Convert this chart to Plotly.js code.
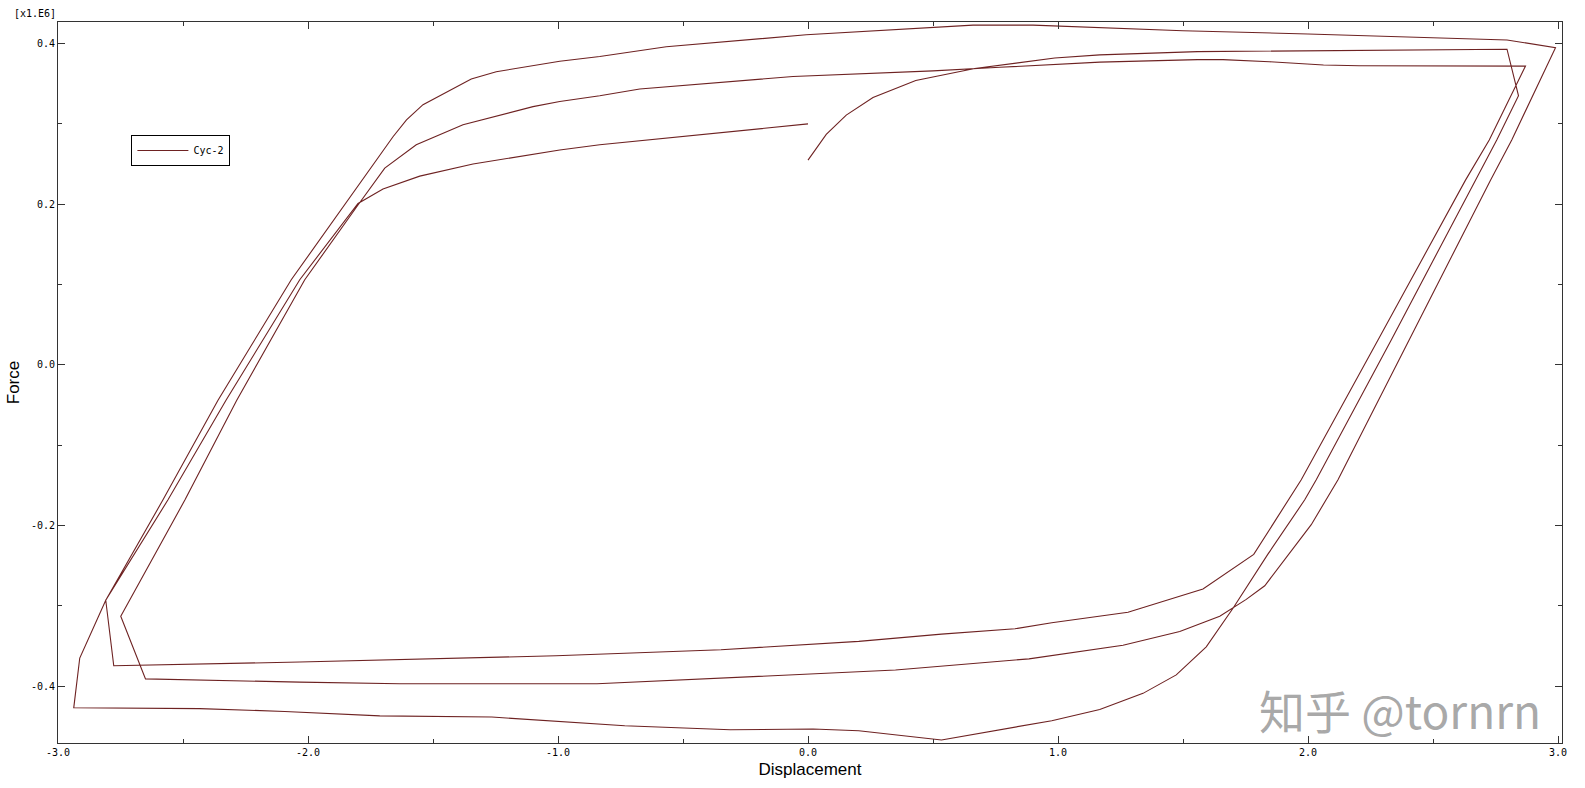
<!DOCTYPE html>
<html>
<head>
<meta charset="utf-8">
<script src="https://cdn.plot.ly/plotly-3.0.1.min.js"></script>
<style>
  html, body { margin: 0; padding: 0; background: #fff; }
  #chart { width: 1585px; height: 788px; }
</style>
</head>
<body>
<div id="chart"></div>
<script>
// Displacement / Force (x1.E6), branch by branch
// Branch 1: initial reload to the right
const disp_b1  = [0.000, 0.073, 0.153, 0.260, 0.431, 0.667, 0.987, 1.167, 1.558, 2.000, 2.494, 2.796];
const force_b1 = [0.255, 0.287, 0.311, 0.333, 0.354, 0.369, 0.382, 0.386, 0.390, 0.391, 0.392, 0.393];
// Branch 2: unload to the outer bottom branch
const disp_b2  = [2.842, 2.755, 2.670, 2.333, 2.033, 1.987, 1.839, 1.700, 1.593, 1.473, 1.340, 1.167, 0.975, 0.534, 0.203, 0.020, -0.311, -0.733, -1.265, -1.713, -2.093, -2.433, -2.937];
const force_b2 = [0.335, 0.280, 0.230, 0.031, -0.143, -0.168, -0.236, -0.303, -0.351, -0.386, -0.409, -0.429, -0.443, -0.467, -0.4555, -0.4534, -0.4543, -0.4493, -0.4385, -0.437, -0.4315, -0.428, -0.427];
// Branch 3: reload along the top branch
const disp_b3  = [-2.913, -2.809, -2.580, -2.360, -2.067, -1.660, -1.606, -1.540, -1.446, -1.347, -1.247, -0.993, -0.833, -0.567, -0.007, 0.500, 0.660, 0.900, 1.167, 1.500, 2.000, 2.796, 2.990];
const force_b3 = [-0.365, -0.293, -0.168, -0.044, 0.106, 0.284, 0.305, 0.324, 0.340, 0.356, 0.365, 0.378, 0.384, 0.396, 0.411, 0.420, 0.423, 0.423, 0.420, 0.416, 0.412, 0.4045, 0.395];
// Branch 4: unload to the middle bottom branch
const disp_b4  = [2.815, 2.730, 2.405, 2.120, 2.013, 1.827, 1.753, 1.647, 1.487, 1.260, 0.884, 0.350, -0.844, -1.633, -2.033, -2.650];
const force_b4 = [0.280, 0.230, 0.031, -0.143, -0.199, -0.275, -0.292, -0.313, -0.332, -0.349, -0.366, -0.380, -0.397, -0.397, -0.395, -0.391];
// Branch 5: reload along the middle upper branch
const disp_b5  = [-2.749, -2.492, -2.285, -2.013, -1.800, -1.693, -1.567, -1.380, -1.100, -0.993, -0.833, -0.673, -0.060, 0.500, 0.767, 1.167, 1.558, 1.660, 1.846, 2.062, 2.205, 2.870];
const force_b5 = [-0.313, -0.168, -0.044, 0.106, 0.199, 0.245, 0.274, 0.299, 0.3215, 0.328, 0.335, 0.3435, 0.359, 0.366, 0.3705, 0.377, 0.380, 0.380, 0.3775, 0.3734, 0.3725, 0.372];
// Branch 6: unload to the inner bottom branch
const disp_b6  = [2.725, 2.630, 2.280, 1.973, 1.783, 1.580, 1.280, 0.975, 0.828, 0.534, 0.203, -0.348, -1.008, -1.633, -2.033, -2.777];
const force_b6 = [0.280, 0.230, 0.031, -0.143, -0.236, -0.279, -0.308, -0.321, -0.3286, -0.3352, -0.3443, -0.3547, -0.3622, -0.367, -0.370, -0.3746];
// Branch 7: final reload, ends at zero displacement
const disp_b7  = [-2.809, -2.560, -2.328, -2.033, -1.800, -1.700, -1.553, -1.340, -0.993, -0.833, 0.000];
const force_b7 = [-0.293, -0.168, -0.044, 0.106, 0.201, 0.219, 0.235, 0.250, 0.2676, 0.274, 0.300];

const xTickVals = [-3, -2, -1, 0, 1, 2, 3];
const xTickText = ['-3.0', '-2.0', '-1.0', '0.0', '1.0', '2.0', '3.0'];
const yTickVals = [-0.4, -0.2, 0, 0.2, 0.4];
const yTickText = ['-0.4', '-0.2', '0.0', '0.2', '0.4'];

const displacement = [].concat(disp_b1, disp_b2, disp_b3, disp_b4, disp_b5, disp_b6, disp_b7);
const force = [].concat(force_b1, force_b2, force_b3, force_b4, force_b5, force_b6, force_b7);

const lineCol = '#6e2222';
const axCol = '#333333';
const mono = 'DejaVu Sans Mono, Liberation Mono, monospace';
const sans = 'Liberation Sans, Arial, sans-serif';

const trace = {
  x: displacement,
  y: force,
  type: 'scatter',
  mode: 'lines',
  name: 'Cyc-2',
  showlegend: true,
  line: { color: lineCol, width: 1.1 }
};

const layout = {
  width: 1585,
  height: 788,
  margin: { l: 58, r: 23, t: 22, b: 45, pad: 0 },
  paper_bgcolor: '#ffffff',
  plot_bgcolor: '#ffffff',
  xaxis: {
    range: [-3.0, 3.016],
    tickmode: 'array', tickvals: xTickVals, ticktext: xTickText,
    ticks: 'inside', ticklen: 7, tickwidth: 1, tickcolor: axCol,
    minor: { tickmode: 'linear', tick0: 0, dtick: 0.5, ticks: 'inside', ticklen: 4, tickwidth: 1, tickcolor: axCol },
    showline: true, linecolor: axCol, linewidth: 1, mirror: 'allticks',
    showgrid: false, zeroline: false,
    tickfont: { family: mono, size: 10, color: '#000' },
    title: { text: 'Displacement', font: { family: sans, size: 17, color: '#000' }, standoff: 6 }
  },
  yaxis: {
    range: [-0.4708, 0.4269],
    tickmode: 'array', tickvals: yTickVals, ticktext: yTickText,
    ticks: 'inside', ticklen: 7, tickwidth: 1, tickcolor: axCol,
    minor: { tickmode: 'linear', tick0: 0, dtick: 0.1, ticks: 'inside', ticklen: 4, tickwidth: 1, tickcolor: axCol },
    showline: true, linecolor: axCol, linewidth: 1, mirror: 'allticks',
    showgrid: false, zeroline: false,
    tickfont: { family: mono, size: 10, color: '#000' },
    title: { text: 'Force', font: { family: sans, size: 17, color: '#000' }, standoff: 6 }
  },
  legend: {
    x: 0.0488, y: 0.8433, xanchor: 'left', yanchor: 'top',
    bgcolor: '#ffffff', bordercolor: '#000000', borderwidth: 1,
    font: { family: mono, size: 10, color: '#000' },
    itemwidth: 51
  },
  annotations: [
    {
      text: '[x1.E6]', xref: 'paper', yref: 'paper', x: -0.0308, y: 1.0111,
      xanchor: 'left', yanchor: 'middle', showarrow: false,
      font: { family: mono, size: 10, color: '#000' }
    },
    {
      text: '知乎 @tornrn', xref: 'paper', yref: 'paper', x: 0.9872, y: 0.047,
      xanchor: 'right', yanchor: 'middle', showarrow: false,
      font: { family: 'Noto Sans CJK SC, Noto Sans, sans-serif', size: 46, color: 'rgba(145,145,145,0.8)' }
    }
  ]
};

Plotly.newPlot('chart', [trace], layout, { displayModeBar: false, staticPlot: true });
</script>
</body>
</html>
